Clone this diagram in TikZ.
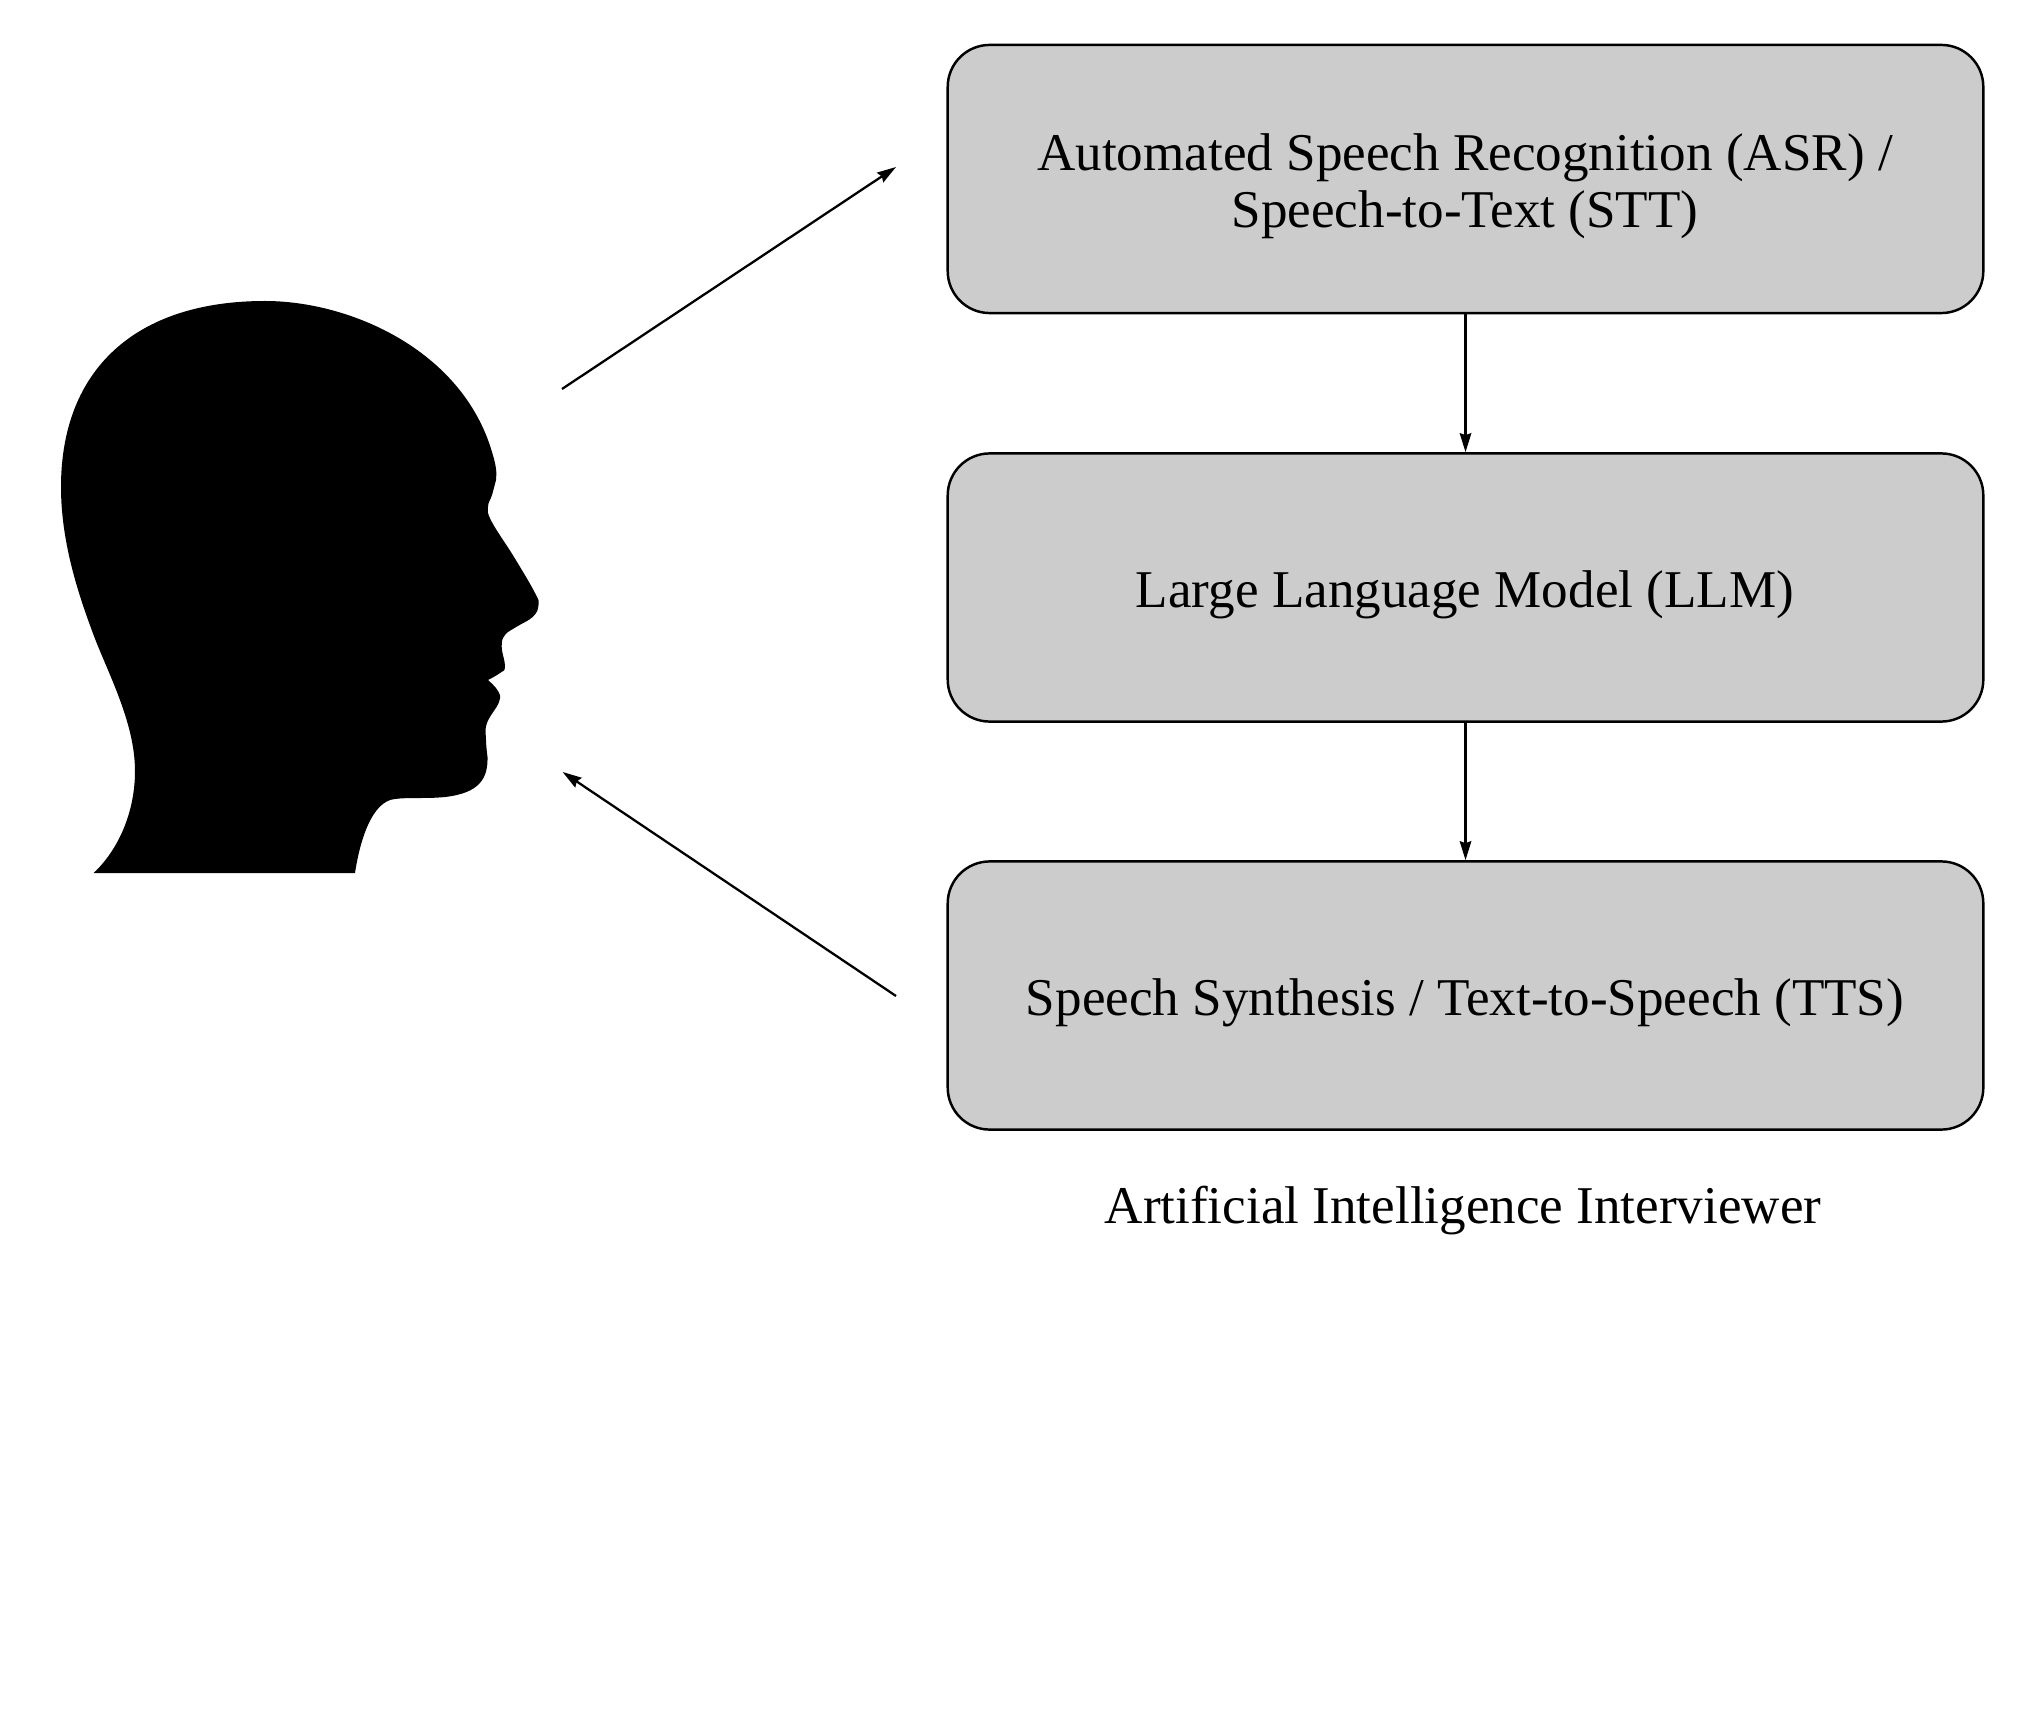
\documentclass[tikz,border=0pt]{standalone}
\usepackage{fontspec}
\setmainfont{Liberation Serif}
\usetikzlibrary{arrows.meta}
\tikzset{
  stagebox/.style={draw=black,fill=black!20,line width=0.7pt,rounded corners=0.42cm,
    minimum width=10.35cm,minimum height=2.68cm,inner sep=0pt,align=center,
    font=\fontsize{15.1}{16.2}\selectfont},
  stagetext/.style={font=\fontsize{15.1}{16.2}\selectfont,inner sep=0pt,align=center},
  flow/.style={draw=black,line width=0.65pt,-{Stealth[length=0.19cm,width=0.115cm,inset=0.02cm]}}
}
\begin{document}
\begin{tikzpicture}[x=0.01cm,y=-0.01cm]
\useasboundingbox (0,0) rectangle (2028,1728);
% head silhouette
\fill[black] (93.7,873)
 .. controls (120,848) and (135,810) .. (135,771)
 .. controls (135,720) and (105,668) .. (91,628)
 .. controls (77,590) and (61,540) .. (61,487)
 .. controls (61,370) and (135,301) .. (265,301)
 .. controls (350,301) and (462,350) .. (492,452)
 .. controls (496,465) and (497,472) .. (496,480)
 -- plot[smooth,tension=0.7] coordinates {
 (496,480) (492,495) (488,507) (491.7,521.7) (514,557) (535,593) (538.5,605)
 (533,616.7) (516.7,626.7) (505,635) (501.7,646.7) (505,666.7) (500,673) (488,680)}
 -- plot[smooth,tension=0.7] coordinates {
 (488,680) (498,691) (499,702) (487,723) (486,740) (487.5,757)}
 .. controls (488,778) and (480,793) .. (445,797)
 .. controls (425,799) and (410,797) .. (395,799)
 .. controls (372,801) and (360,840) .. (355,873) -- cycle;
\node[stagebox] (asr) at (1465.5,179) {};
\node[stagetext] (asrt) at (1465,186) {Automated Speech Recognition (ASR) /\\Speech-to-Text (STT)};
\node[stagebox] (llm) at (1465.5,587.5) {};
\node[stagetext] (llmt) at (1465,595) {Large Language Model (LLM)};
\node[stagebox] (tts) at (1465.5,995.5) {};
\node[stagetext] (ttst) at (1465,1003) {Speech Synthesis / Text-to-Speech (TTS)};
\node[stagetext] (cap) at (1463,1211) {Artificial Intelligence Interviewer};
\coordinate (outS) at (562,389);
\coordinate (outE) at (896,167);
\coordinate (inS) at (896,996);
\coordinate (inE) at (562.6,772);
\draw[flow] (outS) -- (outE);
\draw[flow] (inS) -- (inE);
\draw[flow] (asr) -- (llm);
\draw[flow] (llm) -- (tts);
\end{tikzpicture}
\end{document}
